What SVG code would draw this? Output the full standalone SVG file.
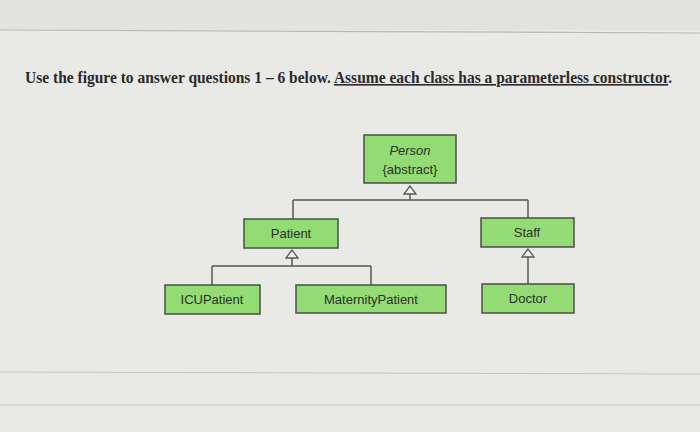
<svg xmlns="http://www.w3.org/2000/svg" width="700" height="432" viewBox="0 0 700 432">
<style>
.n rect{fill:#93dc74;stroke:#4a4f48;stroke-width:1.5}
.n text{font-family:"Liberation Sans",Arial,sans-serif;font-size:13px;fill:#2b2f2a;text-anchor:middle}
#c path{fill:none;stroke:#55585a;stroke-width:1.5}
#c polygon{fill:#f2f2f0;stroke:#55585a;stroke-width:1.3}
.t{font-family:"Liberation Serif","Times New Roman",serif;font-size:16px;font-weight:bold;fill:#2a2a2a}
</style>
<rect width="700" height="432" fill="#e9e9e6"/>
<rect width="700" height="30" fill="#e2e2df"/>
<path d="M0 30 L700 33" stroke="#b8b8b6" stroke-width="1.2"/>
<path d="M0 372 L700 374 M0 405 L700 405" stroke="#c4c4c2" stroke-width="1"/>
<text class="t" x="25" y="83" textLength="647" lengthAdjust="spacingAndGlyphs">Use the figure to answer questions 1 – 6 below.  <tspan text-decoration="underline">Assume each class has a parameterless constructor</tspan>.</text>
<g id="c">
<path d="M410 193 V200 M293 200 H528 M293 200 V219 M528 200 V218"/>
<polygon points="410,186 404,194 416,194"/>
<path d="M292 257 V266 M212 266 H371 M212 266 V285 M371 266 V285"/>
<polygon points="292,250 286,258 298,258"/>
<path d="M528 256 V284"/>
<polygon points="528,249 522,257 534,257"/>
</g>
<g id="person" class="n"><rect x="364" y="135" width="92" height="48"/><text x="410" y="155" font-style="italic">Person</text><text x="410" y="174">{abstract}</text></g>
<g id="patient" class="n"><rect x="244" y="219" width="94" height="29"/><text x="291" y="238">Patient</text></g>
<g id="staff" class="n"><rect x="481" y="218" width="93" height="29"/><text x="527" y="237">Staff</text></g>
<g id="icupatient" class="n"><rect x="165" y="285" width="95" height="29"/><text x="212" y="304">ICUPatient</text></g>
<g id="maternitypatient" class="n"><rect x="296" y="285" width="150" height="28"/><text x="371" y="304">MaternityPatient</text></g>
<g id="doctor" class="n"><rect x="482" y="284" width="92" height="29"/><text x="528" y="303">Doctor</text></g>
</svg>
